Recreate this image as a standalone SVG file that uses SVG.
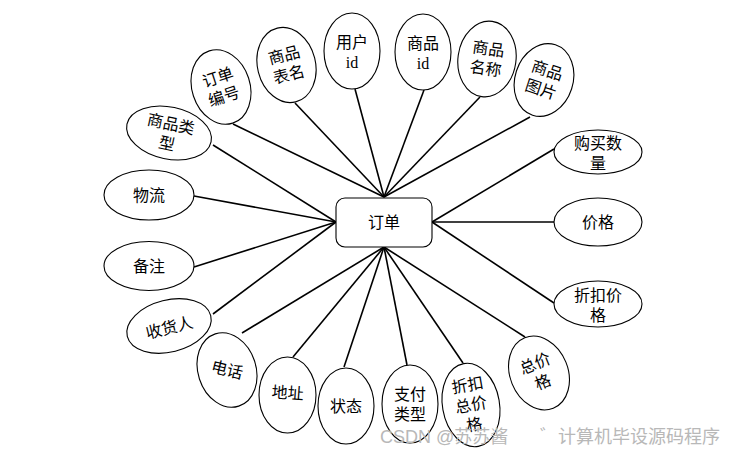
<svg xmlns="http://www.w3.org/2000/svg" width="738" height="456" viewBox="0 0 738 456">
<style>
  .n ellipse{fill:#fff;stroke:#000;stroke-width:1.1}
  .n text,.c text{font-family:"Liberation Serif","Noto Sans CJK SC",serif;font-size:16px;fill:#000;text-anchor:middle;dominant-baseline:central}
  #edges line{stroke:#000;stroke-width:1.6}
  .wm{font-family:"Liberation Sans","Noto Sans CJK SC",sans-serif;font-size:18px;fill:#b8b8b8}
</style>
<rect width="738" height="456" fill="#fff"/>
<g id="edges">
  <line x1="213" y1="145" x2="336" y2="222"/>
  <line x1="233" y1="124" x2="384" y2="197"/>
  <line x1="295" y1="103" x2="384" y2="197"/>
  <line x1="355" y1="89" x2="384" y2="197"/>
  <line x1="424" y1="90" x2="384" y2="197"/>
  <line x1="480" y1="97" x2="384" y2="197"/>
  <line x1="530" y1="117" x2="384" y2="197"/>
  <line x1="554" y1="149" x2="432" y2="222"/>
  <line x1="554" y1="222" x2="432" y2="222"/>
  <line x1="554" y1="303" x2="432" y2="222"/>
  <line x1="194" y1="196" x2="336" y2="222"/>
  <line x1="194" y1="267" x2="336" y2="222"/>
  <line x1="213" y1="314" x2="336" y2="222"/>
  <line x1="242" y1="333" x2="384" y2="247"/>
  <line x1="293" y1="357" x2="384" y2="247"/>
  <line x1="344" y1="367" x2="384" y2="247"/>
  <line x1="407" y1="365" x2="384" y2="247"/>
  <line x1="463" y1="363" x2="384" y2="247"/>
  <line x1="525" y1="337" x2="384" y2="247"/>
</g>
<g id="order" class="c">
  <rect x="336" y="198" width="96" height="49" rx="9" fill="#fff" stroke="#000" stroke-width="1.1"/>
  <text x="384" y="222">订单</text>
</g>
<g id="goods-type" class="n" transform="translate(169,133) rotate(12)">
  <ellipse rx="43" ry="26"/>
  <text y="-9">商品类</text><text y="11">型</text>
</g>
<g id="order-no" class="n" transform="translate(221,87) rotate(-18)">
  <ellipse rx="29" ry="38"/>
  <text y="-10">订单</text><text y="10">编号</text>
</g>
<g id="goods-table" class="n" transform="translate(286.5,65) rotate(-14)">
  <ellipse rx="29" ry="38"/>
  <text y="-10">商品</text><text y="10">表名</text>
</g>
<g id="user-id" class="n" transform="translate(352,51)">
  <ellipse rx="28" ry="38"/>
  <text y="-9">用户</text><text y="11">id</text>
</g>
<g id="goods-id" class="n" transform="translate(423,52)">
  <ellipse rx="28" ry="38"/>
  <text y="-9">商品</text><text y="11">id</text>
</g>
<g id="goods-name" class="n" transform="translate(487,59) rotate(8)">
  <ellipse rx="29" ry="38"/>
  <text y="-10">商品</text><text y="10">名称</text>
</g>
<g id="goods-img" class="n" transform="translate(544,80) rotate(18)">
  <ellipse rx="29" ry="37"/>
  <text y="-10">商品</text><text y="10">图片</text>
</g>
<g id="qty" class="n" transform="translate(598,152)">
  <ellipse rx="44" ry="22"/>
  <text y="-9">购买数</text><text y="11">量</text>
</g>
<g id="price" class="n" transform="translate(598,222)">
  <ellipse rx="44" ry="24"/>
  <text y="0">价格</text>
</g>
<g id="disc-price" class="n" transform="translate(598,304)">
  <ellipse rx="44" ry="23"/>
  <text y="-9">折扣价</text><text y="11">格</text>
</g>
<g id="logistics" class="n" transform="translate(149,195)">
  <ellipse rx="45" ry="25"/>
  <text y="0">物流</text>
</g>
<g id="remark" class="n" transform="translate(149,266)">
  <ellipse rx="45" ry="24.5"/>
  <text y="0">备注</text>
</g>
<g id="receiver" class="n" transform="translate(169,326) rotate(-14)">
  <ellipse rx="43" ry="26"/>
  <text y="2">收货人</text>
</g>
<g id="phone" class="n" transform="translate(227,370) rotate(-18)">
  <ellipse rx="29" ry="38"/>
  <text y="0" transform="rotate(32)">电话</text>
</g>
<g id="address" class="n" transform="translate(287.5,395)">
  <ellipse rx="28.5" ry="38"/>
  <text y="-2" transform="rotate(4)">地址</text>
</g>
<g id="status" class="n" transform="translate(346,406)">
  <ellipse rx="28" ry="38"/>
  <text y="0">状态</text>
</g>
<g id="pay-type" class="n" transform="translate(410,404)">
  <ellipse rx="28" ry="39"/>
  <text y="-10">支付</text><text y="10">类型</text>
</g>
<g id="disc-total" class="n" transform="translate(471,405) rotate(-10)">
  <ellipse rx="28.5" ry="42"/>
  <text y="-20">折扣</text><text y="0">总价</text><text y="20">格</text>
</g>
<g id="total" class="n" transform="translate(539,373) rotate(-22)">
  <ellipse rx="29" ry="38"/>
  <text y="-10">总价</text><text y="10">格</text>
</g>
<g id="watermark">
  <text class="wm" x="380" y="443">CSDN @苏苏酱</text>
  <text class="wm" x="540" y="443">゛计算机毕设源码程序</text>
</g>
</svg>
